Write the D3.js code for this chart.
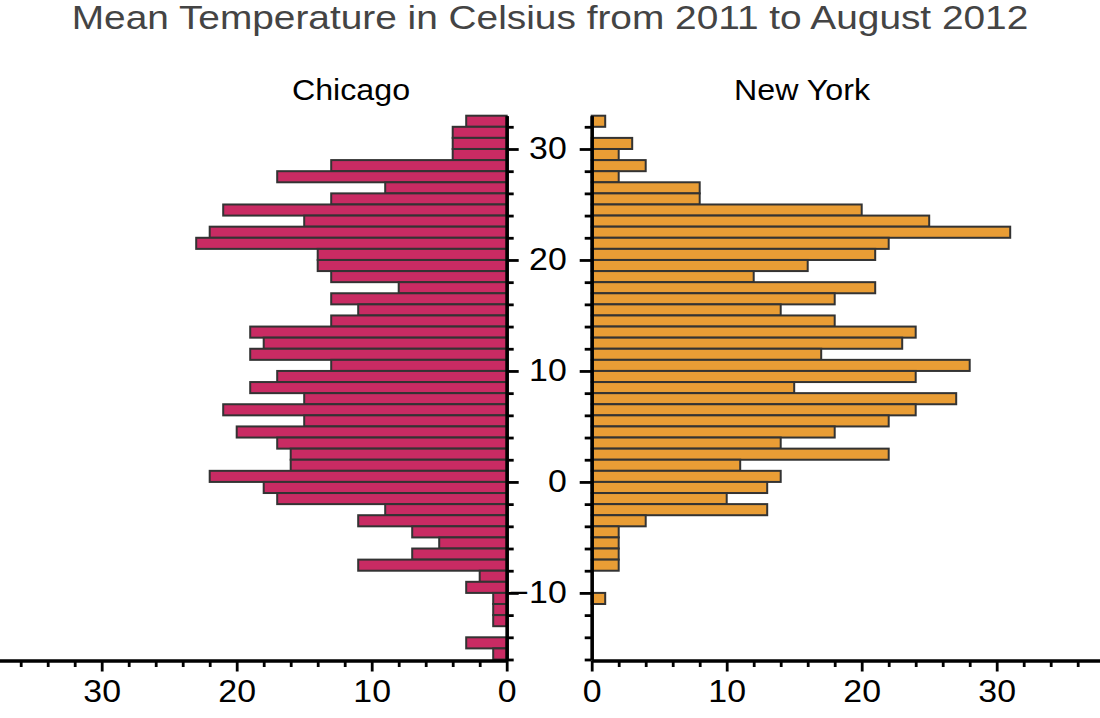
<!DOCTYPE html>
<html>
<head>
<meta charset="utf-8">
<script src="https://cdn.jsdelivr.net/npm/d3@7"></script>
<style>
  html, body { margin: 0; padding: 0; background: #fff; }
  svg { display: block; }
  text { font-family: "Liberation Sans", Arial, Helvetica, sans-serif; }
</style>
</head>
<body>
<svg id="chart" width="1100" height="718"></svg>
<script>
// ---- data ----
const titleText = "Mean Temperature in Celsius from 2011 to August 2012";
const panelNames = ["Chicago", "New York"];
// lower edge of each 1 °C bin, top to bottom
const binStarts = [32, 31, 30, 29, 28, 27, 26, 25, 24, 23, 22, 21, 20, 19, 18, 17, 16, 15, 14, 13,
                   12, 11, 10, 9, 8, 7, 6, 5, 4, 3, 2, 1, 0, -1, -2, -3, -4, -5, -6, -7,
                   -8, -9, -10, -11, -12, -13, -14, -15, -16];
const chicagoCounts = [3, 4, 4, 4, 13, 17, 9, 13, 21, 15, 22, 23, 14, 14, 13, 8, 13, 11, 13, 19,
                       18, 19, 13, 17, 19, 15, 21, 15, 20, 17, 16, 16, 22, 18, 17, 9, 11, 7, 5, 7,
                       11, 2, 3, 1, 1, 1, 0, 3, 1];
const newYorkCounts = [1, 0, 3, 2, 4, 2, 8, 8, 20, 25, 31, 22, 21, 16, 12, 21, 18, 14, 18, 24,
                       23, 17, 28, 24, 15, 27, 24, 22, 18, 14, 22, 11, 14, 13, 10, 13, 4, 2, 2, 2,
                       2, 0, 0, 1, 0, 0, 0, 0, 0];
const countMajorTicks = [0, 10, 20, 30];
const countMinorTicks = [2, 4, 6, 8, 12, 14, 16, 18, 22, 24, 26, 28, 32, 34, 36];
const tempMajorTicks = [-10, 0, 10, 20, 30];
const tempMinorTicks = [-16, -14, -12, -8, -6, -4, -2, 2, 4, 6, 8, 12, 14, 16, 18, 22, 24, 26, 28, 32];

// ---- styles / layout ----
const colors = ["#C92B63", "#E99D35"];
const SX = 1.11;      // horizontal glyph stretch seen in the reference
const TITLE_SX = 1.177;
const svg = d3.select("#chart");

const yTop = 115.7, yBottom = 659.5;
const leftZero = 506.7, rightZero = 591.7, pxPerUnit = 13.5;
const countMax = 38;

const y = d3.scaleLinear().domain([-16, 33]).range([yBottom, yTop]);
const xL = d3.scaleLinear().domain([0, countMax]).range([leftZero, leftZero - countMax * pxPerUnit]);
const xR = d3.scaleLinear().domain([0, countMax]).range([rightZero, rightZero + countMax * pxPerUnit]);

// ---- title ----
svg.append("text")
  .attr("transform", `translate(550,29) scale(${TITLE_SX},1)`)
  .attr("text-anchor", "middle")
  .attr("font-size", 33)
  .attr("fill", "#444")
  .text(titleText);

// ---- panel titles ----
[[351, panelNames[0]], [802, panelNames[1]]].forEach(([cx, t]) => {
  svg.append("text")
    .attr("transform", `translate(${cx},100) scale(${SX},1)`)
    .attr("text-anchor", "middle")
    .attr("font-size", 29)
    .attr("fill", "#000")
    .text(t);
});

// ---- bars ----
const rows = binStarts.map((b, i) => ({ b, chi: chicagoCounts[i], ny: newYorkCounts[i] }));

svg.append("g").selectAll("rect")
  .data(rows.filter(d => d.chi > 0))
  .join("rect")
  .attr("x", d => xL(d.chi))
  .attr("y", d => y(d.b + 1))
  .attr("width", d => xL(0) - xL(d.chi))
  .attr("height", d => y(d.b) - y(d.b + 1))
  .attr("fill", colors[0])
  .attr("stroke", "#333")
  .attr("stroke-width", 2);

svg.append("g").selectAll("rect")
  .data(rows.filter(d => d.ny > 0))
  .join("rect")
  .attr("x", xR(0))
  .attr("y", d => y(d.b + 1))
  .attr("width", d => xR(d.ny) - xR(0))
  .attr("height", d => y(d.b) - y(d.b + 1))
  .attr("fill", colors[1])
  .attr("stroke", "#333")
  .attr("stroke-width", 2);

// ---- axes ----
function styleAxis(g) {
  g.selectAll("path.domain").attr("stroke", "#000").attr("stroke-width", 3.2);
  g.selectAll(".tick line").attr("stroke", "#000").attr("stroke-width", 2.8);
  g.selectAll(".tick text").attr("font-size", 30.5).attr("fill", "#000")
    .attr("font-family", "'Liberation Sans', Arial, Helvetica, sans-serif");
}

const xAxisY = 660.5;
// left bottom axis (Chicago)
svg.append("g").attr("transform", `translate(0,${xAxisY})`)
  .call(d3.axisBottom(xL).tickValues(countMinorTicks).tickSize(6.5).tickSizeOuter(0).tickFormat(""))
  .call(styleAxis);
const gxl = svg.append("g").attr("transform", `translate(0,${xAxisY})`)
  .call(d3.axisBottom(xL).tickValues(countMajorTicks).tickSize(11).tickSizeOuter(0).tickPadding(9))
  .call(styleAxis);
gxl.selectAll(".tick text").attr("transform", `scale(${SX},1)`);

// right bottom axis (New York)
svg.append("g").attr("transform", `translate(0,${xAxisY})`)
  .call(d3.axisBottom(xR).tickValues(countMinorTicks).tickSize(6.5).tickSizeOuter(0).tickFormat(""))
  .call(styleAxis);
const gxr = svg.append("g").attr("transform", `translate(0,${xAxisY})`)
  .call(d3.axisBottom(xR).tickValues(countMajorTicks).tickSize(11).tickSizeOuter(0).tickPadding(9))
  .call(styleAxis);
gxr.selectAll(".tick text").attr("transform", `scale(${SX},1)`);

// left panel vertical axis (ticks pointing right, no labels)
svg.append("g").attr("transform", `translate(${leftZero},0)`)
  .call(d3.axisRight(y).tickValues(tempMinorTicks).tickSize(7).tickSizeOuter(0).tickFormat(""))
  .call(styleAxis);
svg.append("g").attr("transform", `translate(${leftZero},0)`)
  .call(d3.axisRight(y).tickValues(tempMajorTicks).tickSize(12).tickSizeOuter(0).tickFormat(""))
  .call(styleAxis);

// right panel vertical axis (ticks pointing left, labels)
svg.append("g").attr("transform", `translate(${rightZero},0)`)
  .call(d3.axisLeft(y).tickValues(tempMinorTicks).tickSize(7).tickSizeOuter(0).tickFormat(""))
  .call(styleAxis);
const gyr = svg.append("g").attr("transform", `translate(${rightZero},0)`)
  .call(d3.axisLeft(y).tickValues(tempMajorTicks).tickSize(12).tickSizeOuter(0).tickPadding(13))
  .call(styleAxis);
gyr.selectAll(".tick text")
  .attr("x", -25 / SX)
  .attr("transform", `scale(${SX},1)`);
</script>
</body>
</html>
